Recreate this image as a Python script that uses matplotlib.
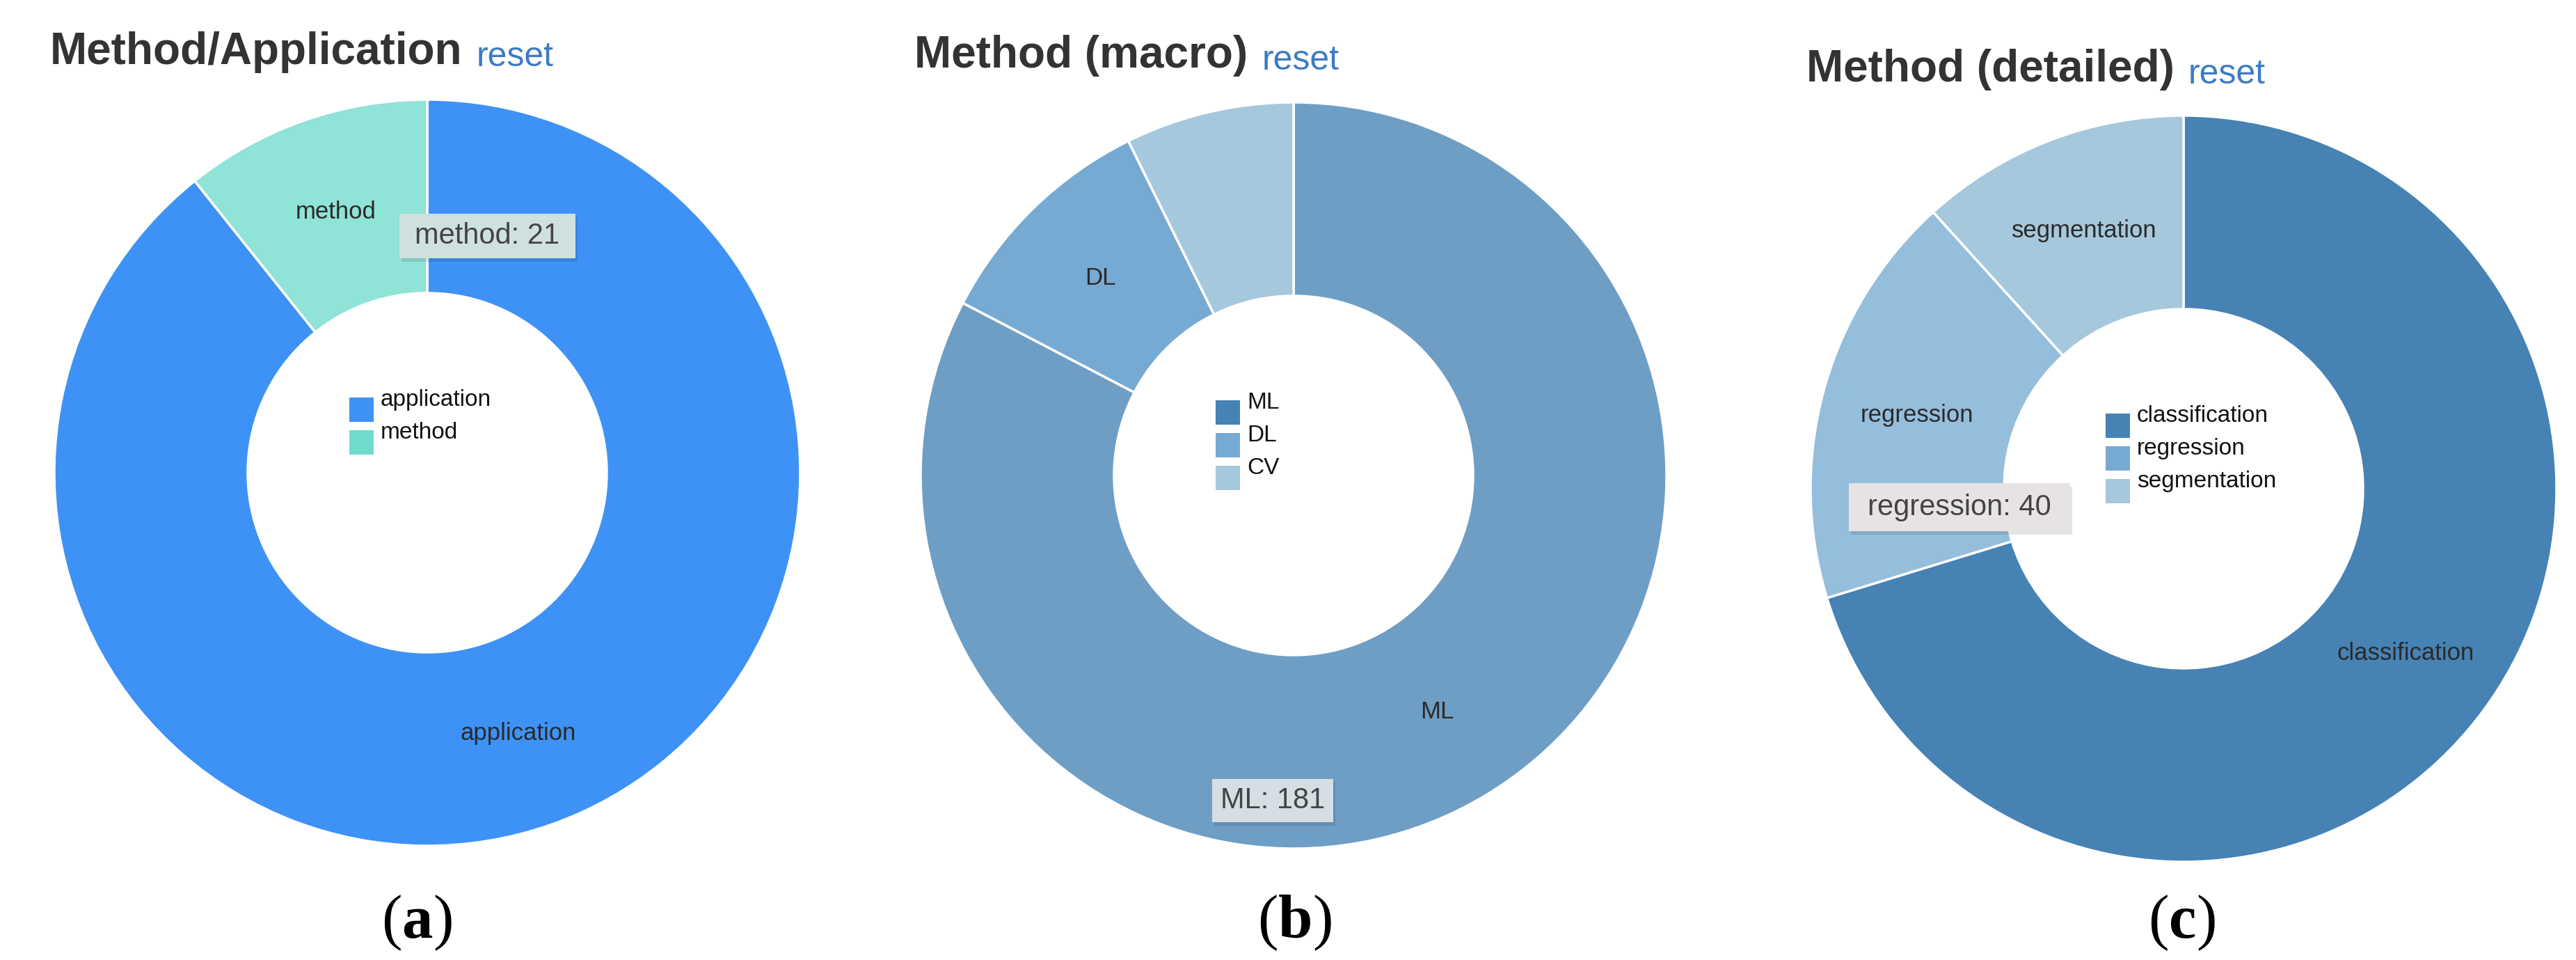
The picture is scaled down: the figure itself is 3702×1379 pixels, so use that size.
import numpy as np
import matplotlib.pyplot as plt
from matplotlib.colors import to_rgb
from matplotlib.patches import Rectangle

plt.rcParams['font.family'] = ['Liberation Sans', 'DejaVu Sans']
plt.rcParams['mathtext.fontset'] = 'custom'
plt.rcParams['mathtext.rm'] = 'Liberation Serif'
plt.rcParams['mathtext.bf'] = 'Liberation Serif:bold'

# ---------------- data ----------------
app_labels = ['application', 'method']
app_values = [175, 21]

macro_labels = ['ML', 'DL', 'CV']
macro_values = [181, 22, 16]

detail_labels = ['classification', 'regression', 'segmentation']
detail_values = [156, 40, 26]

titles = ['Method/Application', 'Method (macro)', 'Method (detailed)']
panel_tags = ['a', 'b', 'c']
hovered = ['method', 'ML', 'regression']   # slice under the tooltip

app_colors = ['#3e92f5', '#6fdbcc']
blue_colors = ['#4682b4', '#77aad2', '#a6c8dd']

charts = [
    (app_labels, app_values, app_colors),
    (macro_labels, macro_values, blue_colors),
    (detail_labels, detail_values, blue_colors),
]

# ---------------- layout (pixels) ----------------
W, H = 3702, 1379
R_OUT, R_IN = 536, 258
MIN_LABEL_ANGLE = np.rad2deg(0.5)   # small slices get no label (dc.js default)
centers = [(614, 679), (1859, 683), (3138, 702)]
title_pos = [(72, 92), (1314, 97), (2596, 117)]
tag_x = [599, 1860, 3135]
tag_baseline = 1347
# tooltip box: x offset, top offset (image y down), width, height
tip_boxes = [(-40, -372, 253, 64), (-117, 436, 174, 62), (-481, -8, 318, 69)]
tip_colors = ['#cfe1df', '#d5dfe3', '#e7e3e3']


def lighten(c, t=0.22):
    rgb = np.array(to_rgb(c))
    return tuple(rgb + (1 - rgb) * t)


fig = plt.figure(figsize=(W / 100, H / 100), dpi=100)
S = 720

for k, (labels, values, base) in enumerate(charts):
    cx, cy = centers[k]
    ax = fig.add_axes([(cx - S) / W, (H - cy - S) / H, 2 * S / W, 2 * S / H])
    cols = [lighten(c) if lab == hovered[k] else c for lab, c in zip(labels, base)]
    wedges, _ = ax.pie(values, radius=R_OUT, startangle=90, counterclock=False,
                       colors=cols,
                       wedgeprops=dict(width=R_OUT - R_IN, edgecolor='white', linewidth=2.5))
    ax.set_xlim(-S, S)
    ax.set_ylim(-S, S)
    ax.axis('off')

    # slice labels at the arc centroid
    r_mid = (R_OUT + R_IN) / 2
    for w, lab in zip(wedges, labels):
        if abs(w.theta2 - w.theta1) < MIN_LABEL_ANGLE:
            continue
        ang = np.deg2rad((w.theta1 + w.theta2) / 2)
        ax.text(r_mid * np.cos(ang), r_mid * np.sin(ang), lab, ha='center', va='center',
                fontsize=25, color='#2a2a2a')

    # legend in the hole
    for i, (lab, c) in enumerate(zip(labels, base)):
        ax.add_patch(Rectangle((-112, 108 - 47 * i - 35), 35, 35, facecolor=c, edgecolor='none'))
        ax.text(-67, 96 - 47 * i, lab, va='baseline', ha='left', fontsize=24, color='#111111')

    # tooltip
    x0, ytop, bw, bh = tip_boxes[k]
    ax.add_patch(Rectangle((x0 + 3, -(ytop + bh) - 5), bw, bh, facecolor='black',
                           alpha=0.10, edgecolor='none', zorder=5))
    ax.add_patch(Rectangle((x0, -(ytop + bh)), bw, bh, facecolor=tip_colors[k],
                           edgecolor='none', zorder=6))
    hv = values[labels.index(hovered[k])]
    ax.text(x0 + bw / 2, -(ytop + bh / 2), f'{hovered[k]}: {hv}', ha='center', va='center',
            fontsize=30, color='#444444', zorder=7)

    # title + reset link
    tx, ty = title_pos[k]
    t = fig.text(tx / W, 1 - ty / H, titles[k], fontsize=46, fontweight='bold',
                 color='#333333', va='baseline', ha='left')
    ax.annotate('reset', xy=(1, 0), xycoords=t, xytext=(20, 0), textcoords='offset pixels',
                va='bottom', ha='left', fontsize=36, color='#3d7bc4')

    # panel tag
    fig.text(tag_x[k] / W, 1 - tag_baseline / H, '(' + r'$\mathbf{' + panel_tags[k] + '}$' + ')',
             ha='center', va='baseline', fontsize=64, family='Liberation Serif', color='black')

fig.savefig('out.png', dpi=100, facecolor='white')
